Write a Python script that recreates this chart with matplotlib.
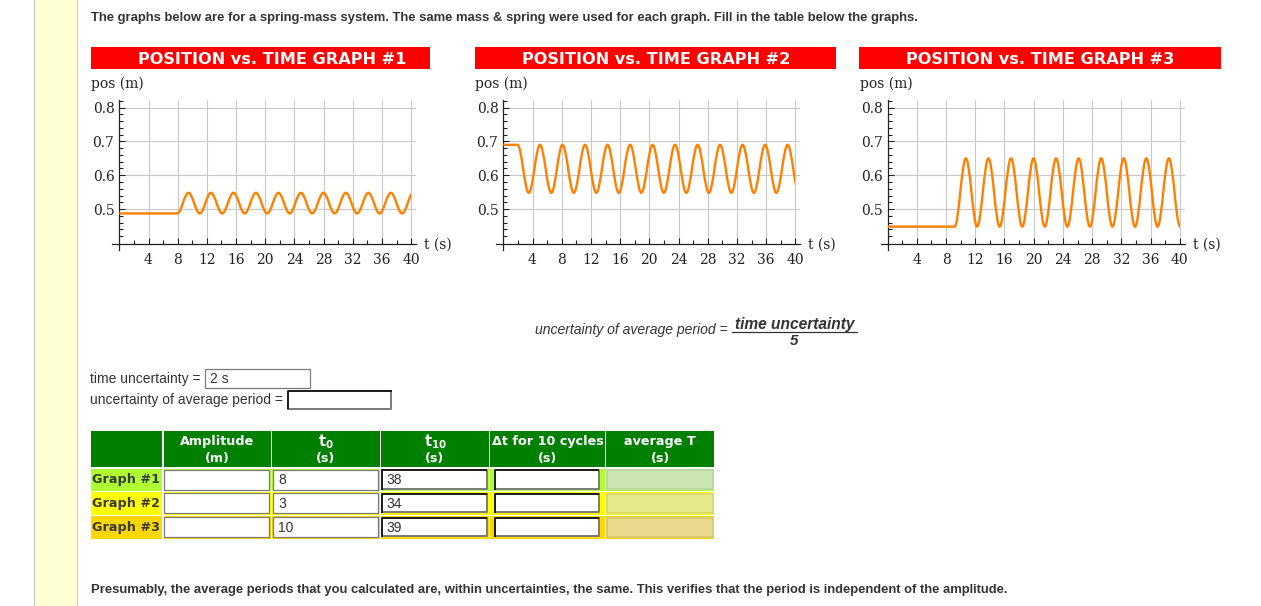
import numpy as np
import matplotlib
matplotlib.use('Agg')
import matplotlib.pyplot as plt
from matplotlib.path import Path
from matplotlib.patches import PathPatch, Rectangle

W, H = 1261, 606

# values
titles = ['POSITION vs. TIME GRAPH #1', 'POSITION vs. TIME GRAPH #2', 'POSITION vs. TIME GRAPH #3']
rest_pos = [0.487, 0.690, 0.448]      # m, before release
release_t = [7.94, 1.95, 9.17]        # s
high_pos = [0.548, 0.690, 0.650]
low_pos = [0.487, 0.548, 0.448]
moves_up = [True, False, True]
# times of the turning points after release (alternating)
turns1 = [9.48, 11.02, 12.56, 14.10, 15.64, 17.18, 18.72, 20.26, 21.80, 23.34, 24.88,
          26.42, 27.96, 29.50, 31.04, 32.58, 34.12, 35.66, 37.20, 38.74, 40.28]
turns2 = [3.49, 5.03, 6.57, 8.11, 9.66, 11.20, 12.74, 14.28, 15.82, 17.37, 18.91, 20.45,
          21.99, 23.53, 25.07, 26.62, 28.16, 29.70, 31.24, 32.78, 34.33, 35.87, 37.41,
          38.95, 40.49]
turns3 = [10.71, 12.25, 13.80, 15.34, 16.89, 18.43, 19.98, 21.52, 23.07, 24.61, 26.16,
          27.70, 29.25, 30.79, 32.34, 33.88, 35.43, 36.97, 38.52, 40.06]
turns = [turns1, turns2, turns3]

x_major = [4, 8, 12, 16, 20, 24, 28, 32, 36, 40]
y_major = [0.5, 0.6, 0.7, 0.8]

# table contents
row_labels = ['Graph #1', 'Graph #2', 'Graph #3']
t0_vals = ['8', '3', '10']
t10_vals = ['38', '34', '39']
head_top = ['Amplitude', r'$\mathbf{t_0}$', r'$\mathbf{t_{10}}$', 'Δt for 10 cycles', 'average T']
head_bot = ['(m)', '(s)', '(s)', '(s)', '(s)']
row_colors = ['#adff2f', '#ffff00', '#ffd700']
avg_fill = ['#cde5b2', '#e8e88c', '#e8d98c']
avg_edge = ['#b8d89c', '#d8d870', '#dcc870']
time_unc = '2 s'

top_text = ('The graphs below are for a spring-mass system. The same mass & spring were '
            'used for each graph. Fill in the table below the graphs.')
bottom_text = ('Presumably, the average periods that you calculated are, within uncertainties, '
               'the same. This verifies that the period is independent of the amplitude.')

plt.rcParams['mathtext.fontset'] = 'dejavusans'
SANS = 'Liberation Sans'
VERD = 'DejaVu Sans'
SERIF = 'DejaVu Serif'
INK = '#333333'

fig = plt.figure(figsize=(W / 100, H / 100), dpi=100)
bg = fig.add_axes([0, 0, 1, 1])
bg.set_xlim(0, W)
bg.set_ylim(H, 0)
bg.axis('off')

# left page strip
bg.add_patch(Rectangle((33, 0), 44, H, fc='#ffffd4', ec='none'))
bg.plot([33.5, 33.5], [0, H], color='#c8c8c8', lw=0.8)
bg.plot([76.5, 76.5], [0, H], color='#c8c8c8', lw=0.8)

bg.text(91, 21.5, top_text, fontsize=9.4, family=SANS, weight='bold', color=INK, va='baseline')
bg.text(91, 593.5, bottom_text, fontsize=9.4, family=SANS, weight='bold', color=INK, va='baseline')

# graphs
origin_px = [119.3, 503.3, 887.7]
bars_px = [(91, 430), (475, 836), (859, 1221)]
title_cx = [271.7, 655.8, 1040.0]
sx = 7.3
top_px, bot_px = 99.9, 249.6
k = 1 - 2 / np.pi

for g in range(3):
    b0, b1 = bars_px[g]
    bg.add_patch(Rectangle((b0, 47.3), b1 - b0, 22, fc='#ff0000', ec='none'))
    bg.text(title_cx[g], 59.3, titles[g], fontsize=11.6, family=VERD, weight='bold',
            color='white', ha='center', va='center')

    x0 = origin_px[g]
    ax = fig.add_axes([(x0 - 0.95 * sx) / W, (H - bot_px) / H,
                       41.65 * sx / W, (bot_px - top_px) / H])
    ax.set_facecolor('none')
    ax.set_xlim(-0.95, 40.7)
    ax.set_ylim(0.38, 0.823)
    for s in ['top', 'right']:
        ax.spines[s].set_visible(False)
    ax.spines['left'].set_position(('data', 0))
    ax.spines['bottom'].set_position(('data', 0.396))
    for s in ['left', 'bottom']:
        ax.spines[s].set_color('#222222')
        ax.spines[s].set_linewidth(0.9)

    ax.set_xticks(x_major)
    ax.set_xticks(np.arange(2, 40, 4), minor=True)
    ax.set_yticks(y_major)
    ax.set_yticks(np.arange(0.42, 0.83, 0.02), minor=True)
    ax.set_xticklabels([str(v) for v in x_major], family=SERIF, fontsize=10, color='#222222')
    ax.set_yticklabels(['%.1f' % v for v in y_major], family=SERIF, fontsize=10, color='#222222')
    ax.tick_params(which='both', direction='in', color='#222222', width=0.8)
    ax.tick_params(which='major', length=4, pad=3.5)
    ax.tick_params(which='minor', length=2.6)
    ax.tick_params(axis='x', which='major', pad=6.2)

    ax.hlines(y_major, 0, 40.7, color='#c8c8c8', lw=0.8, zorder=0)
    ax.vlines(x_major, 0.396, 0.823, color='#c8c8c8', lw=0.8, zorder=0)

    # position curve: rest, then smooth half-swings between turning points
    verts = [(0, rest_pos[g]), (release_t[g], rest_pos[g])]
    codes = [Path.MOVETO, Path.LINETO]
    px, py = release_t[g], rest_pos[g]
    for i, t in enumerate(turns[g]):
        y = high_pos[g] if (i % 2 == 0) == moves_up[g] else low_pos[g]
        d = t - px
        verts += [(px + k * d, py), (t - k * d, y), (t, y)]
        codes += [Path.CURVE4] * 3
        px, py = t, y
    curve = PathPatch(Path(verts, codes), fill=False, ec='#ff8000', lw=1.7, zorder=3)
    ax.add_patch(curve)
    curve.set_clip_path(Rectangle((0, 0), 40, 1, transform=ax.transData))

    ax.text(-3.85, 0.870, 'pos (m)', family=SERIF, fontsize=10, color='#222222', va='center')
    ax.text(41.8, 0.396, 't (s)', family=SERIF, fontsize=10, color='#222222', va='center')

# uncertainty formula
bg.text(535, 334.3, 'uncertainty of average period =', family=SANS, style='italic',
        fontsize=10.1, color=INK, va='baseline')
bg.text(794.5, 328.5, 'time uncertainty', family=SANS, style='italic', weight='bold',
        fontsize=11.2, color=INK, ha='center', va='baseline')
bg.plot([731.7, 857.3], [331.7, 331.7], color=INK, lw=0.9)
bg.text(794.5, 345, '5', family=SANS, style='italic', weight='bold',
        fontsize=11, color=INK, ha='center', va='baseline')


def plain_box(x0, y0, x1, y1, txt=''):
    bg.add_patch(Rectangle((x0, y0), x1 - x0, y1 - y0, fc='white', ec='#7a7a7a', lw=0.9))
    if txt:
        bg.text(x0 + 5, (y0 + y1) / 2 + 0.5, txt, family=SANS, fontsize=10, color=INK, va='center')


def inset_box(x0, y0, x1, y1, txt=''):
    bg.add_patch(Rectangle((x0, y0), x1 - x0, y1 - y0, fc='white', ec='none'))
    bg.plot([x1 - 0.7, x1 - 0.7, x0], [y0, y1 - 0.7, y1 - 0.7], color='#7a7a7a', lw=1.4,
            solid_capstyle='butt')
    bg.plot([x0 + 0.7, x0 + 0.7, x1], [y1, y0 + 0.7, y0 + 0.7], color='#1a1a1a', lw=1.4,
            solid_capstyle='butt')
    if txt:
        bg.text(x0 + 5, (y0 + y1) / 2 + 0.5, txt, family=SANS, fontsize=10, color=INK, va='center')


bg.text(90, 383.3, 'time uncertainty =', family=SANS, fontsize=10, color=INK, va='baseline')
plain_box(205, 369, 310, 388.3, time_unc)
bg.text(90, 404.3, 'uncertainty of average period =', family=SANS, fontsize=10, color=INK,
        va='baseline')
inset_box(287.3, 390, 391.7, 409.3)

# table
cols = [(91, 162), (163.5, 270.5), (271.5, 380), (381, 489), (490, 605), (606, 714)]
rows = [(468.5, 490.5), (492, 514.5), (516, 538.5)]
for c, (c0, c1) in enumerate(cols):
    bg.add_patch(Rectangle((c0, 431), c1 - c0, 36, fc='#008000', ec='none'))
    if c > 0:
        cx = (c0 + c1) / 2
        size = 10.5 if head_top[c - 1].startswith('$') else 9.2
        bg.text(cx, 442, head_top[c - 1], family=VERD, weight='bold', fontsize=size,
                color='white', ha='center', va='center')
        bg.text(cx, 458.5, head_bot[c - 1], family=VERD, weight='bold', fontsize=9.2,
                color='white', ha='center', va='center')

for r, (r0, r1) in enumerate(rows):
    for c0, c1 in cols:
        bg.add_patch(Rectangle((c0, r0), c1 - c0, r1 - r0, fc=row_colors[r], ec='none'))
    bg.text(92.5, (r0 + r1) / 2 + 0.5, row_labels[r], family=VERD, weight='bold', fontsize=9.2,
            color='#3a3a3a', va='center')
    y0, y1 = r0 + 1, r0 + 21
    plain_box(164.3, y0, 269.3, y1)
    plain_box(273.3, y0, 378.3, y1, t0_vals[r])
    inset_box(381.7, y0, 487.3, y1, t10_vals[r])
    inset_box(494.3, y0, 599.3, y1)
    bg.add_patch(Rectangle((607.3, y0 + 0.5), 105.5, 19, fc=avg_fill[r], ec=avg_edge[r], lw=1.4))

fig.savefig('out.png', dpi=100)
